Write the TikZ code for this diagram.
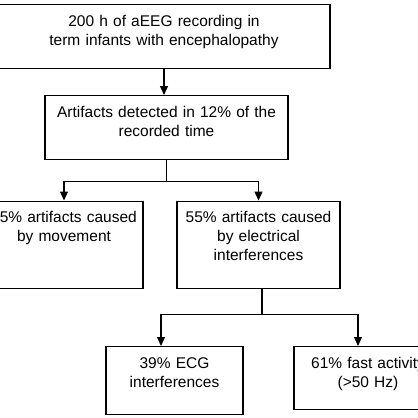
\documentclass[tikz,border=0pt]{standalone}
\usepackage{fontspec}
\setmainfont{Liberation Sans}
\usetikzlibrary{arrows.meta, calc}
\tikzset{
  flowbox/.style={rectangle, draw=black, line width=1.1pt, fill=white,
                  align=center, inner sep=0pt, anchor=north,
                  text height=21.5pt, text depth=#1,
                  font=\fontsize{15.5}{19}\selectfont},
  flowbox/.default=42pt,
  arrow/.style={-{Triangle[width=8pt, length=9pt]}, line width=1.2pt},
  link/.style={line width=1.2pt},
}
\begin{document}
\begin{tikzpicture}[x=1pt, y=-1pt]
  \clip (0,0) rectangle (418,418);
  \fill[white] (0,0) rectangle (418,418);
  % boxes
  \node[flowbox=42.5pt, text width=332pt] (rec) at (164,4)
       {200 h of aEEG recording in\\term infants with encephalopathy};
  \node[flowbox=42.5pt, text width=243pt] (det) at (166.5,95)
       {Artifacts detected in 12\% of the\\recorded time};
  \node[flowbox=65.5pt, text width=158pt] (mov) at (64,200.5)
       {45\% artifacts caused\\by movement};
  \node[flowbox=65.5pt, text width=163pt] (elec) at (258.5,200.5)
       {55\% artifacts caused\\by electrical\\interferences};
  \node[flowbox=46.5pt, text width=137pt] (ecg) at (174.5,346)
       {39\% ECG\\interferences};
  \node[flowbox=41.5pt, text width=148pt] (fast) at (368,346)
       {61\% fast activity\\(>50 Hz)};
  % connectors
  \draw[arrow] (rec.south) -- (rec.south |- det.north);
  \coordinate (split1) at ($(det.south)+(0,21)$);
  \draw[link] (det.south) -- (split1);
  \draw[arrow] (split1) -| (mov.north);
  \draw[arrow] (split1) -| (elec.north);
  \coordinate (split2) at ($(elec.south)+(3.5,26)$);
  \draw[link] ([xshift=3.5pt]elec.south) -- (split2);
  \draw[arrow] (split2) -| ([xshift=-13.5pt]ecg.north);
  \draw[arrow] (split2) -| ([xshift=-10pt]fast.north);
\end{tikzpicture}
\end{document}
